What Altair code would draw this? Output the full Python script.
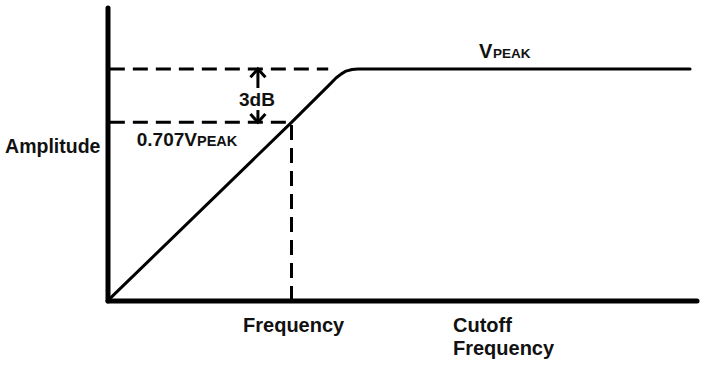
import altair as alt
import pandas as pd

# ---- data (frequency in units of the cutoff, amplitude in units of V_peak) ----
resp_f = [0.01, 1.00, 1.21, 1.2425, 1.27, 1.297, 1.33, 1.362, 3.172]
resp_a = [0.01, 0.77, 0.935, 0.961, 0.978, 0.991, 0.998, 1.0, 1.0]

peak_level = 1.0
half_power_level = 0.77
cutoff_f = 1.0

# axis extents
axis_f_end = 3.21
axis_a_end = 1.263

# dashed guides: (f, a, f2, a2)
guide_f = [0.01, 0.01, cutoff_f]
guide_a = [peak_level, half_power_level, 0.0]
guide_f2 = [1.2, cutoff_f, cutoff_f]
guide_a2 = [peak_level, half_power_level, half_power_level]

# 3 dB arrow
arrow_f = 0.817
arrow_top = [peak_level, 0.918]
arrow_bot = [0.823, half_power_level]

# labels
lab_text = ["Amplitude", "V", "PEAK", "0.707V", "PEAK", "3dB", "Frequency", "Cutoff", "Frequency"]
lab_f = [-0.561, 2.095, 2.098, 0.485, 0.485, 0.812, 0.736, 1.880, 1.880]
lab_a = [0.638, 1.047, 1.047, 0.668, 0.668, 0.84, -0.134, -0.134, -0.233]

# ---- scales mapping the whole canvas ----
W, H = 712, 371
xs = alt.Scale(domain=[-0.5886, 3.2916], nice=False, zero=False)
ys = alt.Scale(domain=[-0.3017, 1.2974], nice=False, zero=False)

X = lambda f="f": alt.X(f"{f}:Q", scale=xs, axis=None)
Y = lambda a="a": alt.Y(f"{a}:Q", scale=ys, axis=None)

axes_df = pd.DataFrame({"f": [0.0, 0.0], "a": [0.0, 0.0],
                        "f2": [0.0, axis_f_end], "a2": [axis_a_end, 0.0]})
axes = alt.Chart(axes_df).mark_rule(color="black", strokeWidth=5, strokeCap="round").encode(
    x=X(), y=Y(), x2="f2:Q", y2="a2:Q")

guide_df = pd.DataFrame({"f": guide_f, "a": guide_a, "f2": guide_f2, "a2": guide_a2})
guides = alt.Chart(guide_df).mark_rule(color="black", strokeWidth=3, strokeDash=[15, 8]).encode(
    x=X(), y=Y(), x2="f2:Q", y2="a2:Q")

resp_df = pd.DataFrame({"f": resp_f, "a": resp_a, "i": list(range(len(resp_f)))})
resp = alt.Chart(resp_df).mark_line(color="black", strokeWidth=3, strokeCap="round",
                                    strokeJoin="round").encode(
    x=X(), y=Y(), order="i:Q")

arrow_df = pd.DataFrame({"f": [arrow_f, arrow_f], "a": [arrow_top[0], arrow_bot[0]],
                         "a2": [arrow_top[1], arrow_bot[1]]})
arrow_lines = alt.Chart(arrow_df).mark_rule(color="black", strokeWidth=3).encode(
    x=X(), y=Y(), y2="a2:Q")

up_df = pd.DataFrame({"f": [arrow_f], "a": [arrow_top[0]]})
down_df = pd.DataFrame({"f": [arrow_f], "a": [arrow_bot[1]]})
head_up = alt.Chart(up_df).mark_point(shape="M -1 1.1 L 0 0 L 1 1.1", size=225, filled=False,
                                      color="black", strokeWidth=3, opacity=1).encode(x=X(), y=Y())
head_down = alt.Chart(down_df).mark_point(shape="M -1 -1.1 L 0 0 L 1 -1.1", size=225, filled=False,
                                          color="black", strokeWidth=3, opacity=1).encode(x=X(), y=Y())

lab_df = pd.DataFrame({"t": lab_text, "f": lab_f, "a": lab_a})

def lab(idx, size, align, weight="bold"):
    d = lab_df.iloc[idx:idx + 1]
    return alt.Chart(d).mark_text(font="Liberation Sans", fontSize=size, fontWeight=weight,
                                  align=align, baseline="alphabetic", color="#111").encode(
        x=X(), y=Y(), text="t:N")

texts = [
    lab(0, 19.5, "left"),
    lab(1, 20, "right"),
    lab(2, 13.5, "left"),
    lab(3, 19, "right"),
    lab(4, 14.5, "left"),
    lab(5, 19, "center"),
    lab(6, 20, "left"),
    lab(7, 20, "left"),
    lab(8, 20, "left"),
]

chart = alt.layer(axes, guides, resp, arrow_lines, head_up, head_down, *texts).properties(
    width=W, height=H, padding=0, autosize=alt.AutoSizeParams(type="none"),
    background="white"
).configure_view(stroke=None)

chart.save("out.html", embed_options={"renderer": "svg", "actions": False})
